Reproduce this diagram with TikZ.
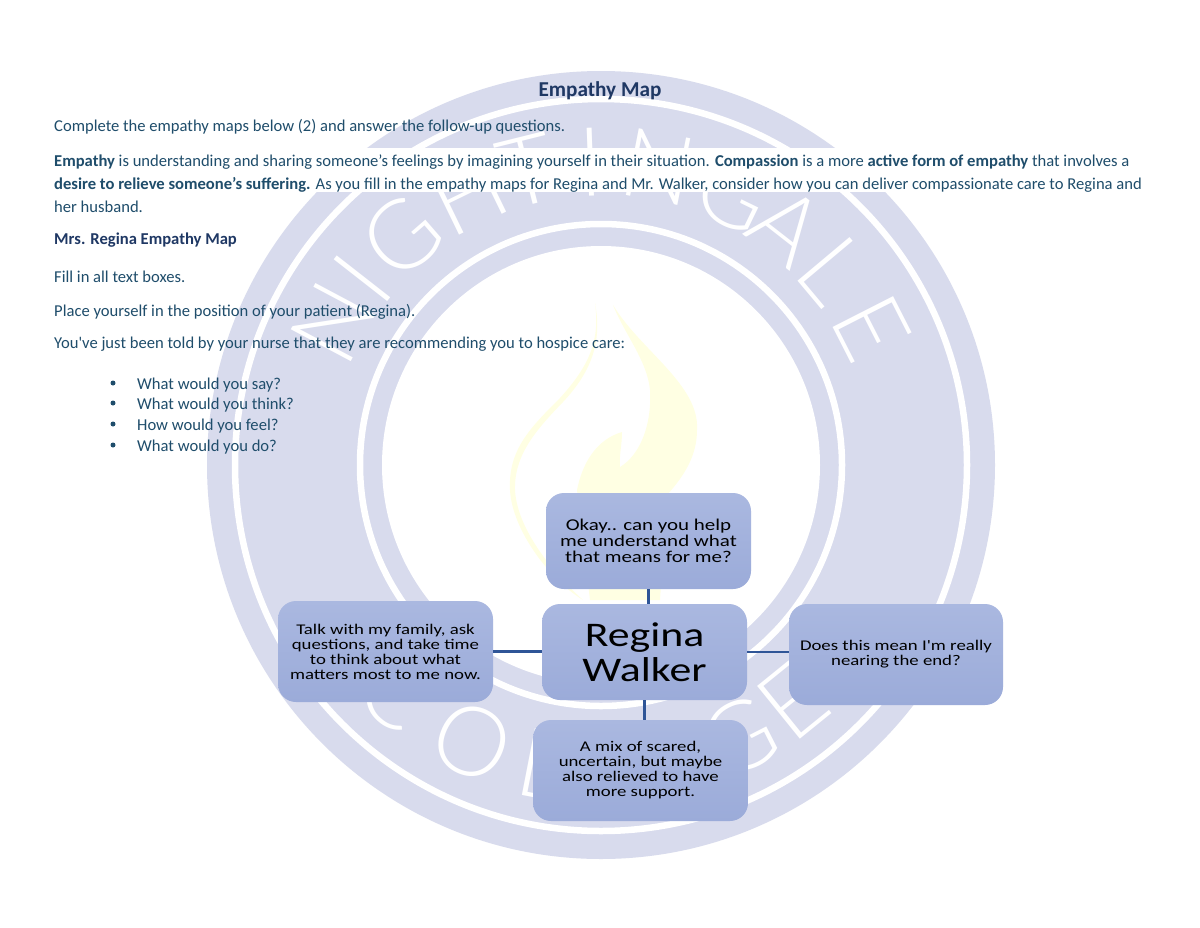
\documentclass[tikz,border=0pt]{standalone}
\usepackage{fontspec}
\setmainfont{Carlito}
\newfontfamily\plainfont{Carlito}
\newfontfamily\boxfont[FakeStretch=1.27]{Carlito}
\newfontfamily\wmfont{Lato Light}
\definecolor{wm}{HTML}{D8DBED}
\definecolor{flame}{HTML}{FFFFE3}
\definecolor{bodyc}{HTML}{1F4D6B}
\definecolor{headc}{HTML}{1F3864}
\definecolor{linkc}{HTML}{2F5597}
\definecolor{boxtop}{HTML}{AAB8E0}
\definecolor{boxbot}{HTML}{9BABD9}
\tikzset{
  bodytext/.style={anchor=west,inner sep=0pt,text=bodyc,font=\fontsize{16.6}{18}\selectfont},
  headtext/.style={inner sep=0pt,text=headc,font=\bfseries\fontsize{16.6}{18}\selectfont},
  dotmark/.style={circle,fill=bodyc,inner sep=0pt,minimum size=5pt},
  mapbox/.style={rounded corners=18pt,top color=boxtop,bottom color=boxbot,outer sep=0pt,inner sep=0pt,
    align=center,text=black,font=\boxfont\fontsize{14.8}{15}\selectfont},
  maplink/.style={draw=linkc,line width=3pt},
  wmletter/.style={inner sep=0pt,text=white,font=\wmfont\fontsize{96}{96}\selectfont}
}
\begin{document}
\begin{tikzpicture}[x=1pt,y=-1pt]
\useasboundingbox (0,0) rectangle (1200,927);
\fill[white] (0,0) rectangle (1200,927);
% watermark
\fill[wm] (601,465) circle[radius=394pt];
\draw[white,line width=6.5pt] (601,465) circle[radius=366pt];
\draw[white,line width=6.5pt] (601,465) circle[radius=241pt];
\fill[white] (601,465) circle[radius=219pt];
\foreach \l/\a [count=\i] in {N/-62,I/-52,G/-41,H/-26,T/-14,I/-2,N/11,G/26,A/38,L/50,E/63}
  \node[wmletter,rotate=-\a,name=wt\i] at ({601+303*sin(\a)},{465-303*cos(\a)}) {\l};
\foreach \l/\a [count=\i] in {C/42,O/25,L/11,L/-2,E/-13,G/-27,E/-39}
  \node[wmletter,rotate=-\a,name=wb\i] at ({601-305*sin(\a)},{465+305*cos(\a)}) {\l};
% flame
\fill[flame] (613,305) .. controls (640,350) and (700,385) .. (697,430)
  .. controls (697,455) and (685,475) .. (667,495)
  -- (660,600) -- (590,600) -- (577,490)
  .. controls (582,465) and (595,440) .. (622,432)
  .. controls (622,445) and (619,455) .. (620,467)
  .. controls (640,455) and (652,425) .. (650,390)
  .. controls (647,360) and (625,335) .. (613,305) -- cycle;
\fill[flame] (595,303) .. controls (600,340) and (590,365) .. (560,398)
  .. controls (530,428) and (508,450) .. (510,490)
  .. controls (512,530) and (550,580) .. (583,600)
  .. controls (555,575) and (517,530) .. (515,490)
  .. controls (514,455) and (536,430) .. (563,402)
  .. controls (593,370) and (602,340) .. (595,303) -- cycle;
% highlight strip
\fill[white] (50,148) rectangle (1146,192);
% text
\node[headtext,font=\bfseries\fontsize{21.2}{22}\selectfont] (title) at (600,91) {Empathy Map};
\node[bodytext] (l1) at (54,127) {Complete the empathy maps below (2) and answer the follow-up questions.};
\node[bodytext] (l2) at (54,162) {\textbf{Empathy} is understanding and sharing someone’s feelings by imagining yourself in their situation. \textbf{Compassion} is a more \textbf{active form of empathy} that involves a};
\node[bodytext] (l3) at (54,185) {\textbf{desire to relieve someone’s suffering.} As you fill in the empathy maps for Regina and Mr. Walker, consider how you can deliver compassionate care to Regina and};
\node[bodytext] (l4) at (54,207) {her husband.};
\node[headtext,anchor=west] (l5) at (54,240) {Mrs. Regina Empathy Map};
\node[bodytext] (l6) at (54,277) {Fill in all text boxes.};
\node[bodytext] (l7) at (54,312) {Place yourself in the position of your patient (Regina).};
\node[bodytext] (l8) at (54,344) {\plainfont You've just been told by your nurse that they are recommending you to hospice care:};
\foreach \t/\y [count=\i] in {What would you say?/385,What would you think?/405,How would you feel?/426,What would you do?/447}{
  \node[dotmark,name=bd\i] at (113,\y-2) {};
  \node[bodytext,name=bt\i] at (137,\y) {\t};
}
% map
\node[mapbox,minimum width=205pt,minimum height=96pt,font=\boxfont\fontsize{16.5}{16.2}\selectfont] (top) at (648.5,541) {Okay.. can you help\\me understand what\\that means for me?};
\node[mapbox,minimum width=205pt,minimum height=96pt,font=\boxfont\fontsize{34.5}{35}\selectfont] (mid) at (644.5,652) {Regina\\Walker};
\node[mapbox,minimum width=215pt,minimum height=101pt] (lft) at (385.5,651.5) {Talk with my family, ask\\questions, and take time\\to think about what\\matters most to me now.};
\node[mapbox,minimum width=214pt,minimum height=101pt] (rgt) at (896,654.5) {Does this mean I'm really\\nearing the end?};
\node[mapbox,minimum width=215pt,minimum height=101pt] (bot) at (640.5,770.5) {A mix of scared,\\uncertain, but maybe\\also relieved to have\\more support.};
\draw[maplink] (top.south) -- (top.south |- mid.north);
\draw[maplink] (mid.south) -- (mid.south |- bot.north);
\draw[maplink] (lft.east) -- (lft.east -| mid.west);
\draw[maplink,line width=2.5pt] (mid.east) -- (mid.east -| rgt.west);
\end{tikzpicture}
\end{document}
